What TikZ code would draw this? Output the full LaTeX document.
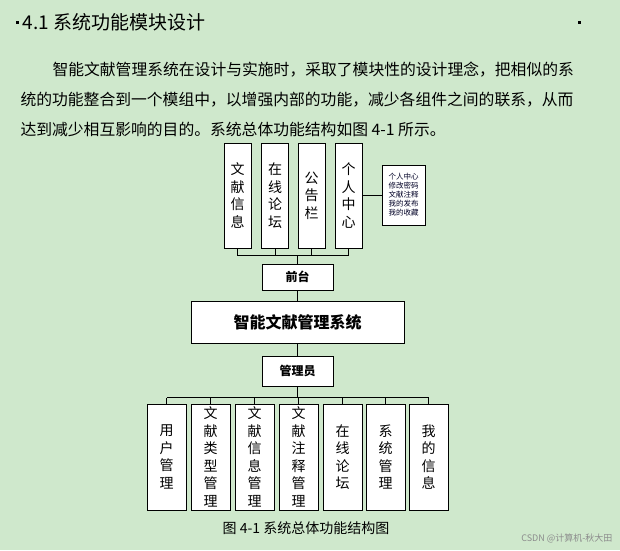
\documentclass[tikz,border=0pt]{standalone}
\usetikzlibrary{calc}
\usepackage{fontspec}
\newfontfamily\cjk{Noto Sans CJK SC}
\begin{document}
\begin{tikzpicture}[x=1pt,y=-1pt,
 bx/.style={draw,line width=0.9pt,fill=white,inner sep=0pt,font=\cjk\fontsize{14}{17.5}\selectfont,align=center},
 ln/.style={line width=0.8pt}]
\fill[fill={rgb,255:red,207;green,232;blue,204}] (0,0) rectangle (620,550);
\useasboundingbox (0,0) rectangle (620,550);
\fill (16,21) rectangle (19,24); \fill (578,21) rectangle (581,24);
\node[anchor=west,font=\cjk\fontsize{19}{22}\selectfont] (h) at (19,22) {4.1 系统功能模块设计};
\node[anchor=west,font=\cjk\fontsize{15.8}{20}\selectfont] (p1) at (49,70) {智能文献管理系统在设计与实施时，采取了模块性的设计理念，把相似的系};
\node[anchor=west,font=\cjk\fontsize{15.8}{20}\selectfont] (p2) at (17,100) {统的功能整合到一个模组中，以增强内部的功能，减少各组件之间的联系，从而};
\node[anchor=west,font=\cjk\fontsize{15.8}{20}\selectfont] (p3) at (17,129) {达到减少相互影响的目的。系统总体功能结构如图 4-1 所示。};
% top boxes
\foreach \n/\x/\t in {a/237.5/文\\献\\信\\息, b/275/在\\线\\论\\坛, c/311.5/公\\告\\栏, d/348.5/个\\人\\中\\心}
  \node[bx,minimum width=27pt,minimum height=105pt] (\n) at (\x,195.5) {\t};
\node[bx,minimum width=43pt,minimum height=60pt,font=\cjk\fontsize{7.5}{9}\selectfont,text=black!85!blue] (s) at (403.5,195) {个人中心\\修改密码\\文献注释\\我的发布\\我的收藏};
\draw[ln] (d.east|-s) -- (s.west);
\node[bx,minimum width=71pt,minimum height=26pt,font=\cjk\bfseries\fontsize{12}{13}\selectfont] (q) at (297.5,277) {前台};
\node[bx,minimum width=213pt,minimum height=42pt,font=\cjk\bfseries\fontsize{16}{18}\selectfont] (m) at (297.5,322) {智能文献管理系统};
\node[bx,minimum width=71pt,minimum height=30pt,font=\cjk\bfseries\fontsize{12}{13}\selectfont] (g) at (297.5,371) {管理员};
\coordinate (t1) at (237.5,255); \coordinate (t2) at (348.5,255);
\draw[ln] (a.south) -- (t1) -- (t2) -- (d.south);
\draw[ln] (b.south) -- (b.south|-t1); \draw[ln] (c.south) -- (c.south|-t1);
\draw[ln] (297.5,255) -- (q.north);
\draw[ln] (q) -- (m); \draw[ln] (m) -- (g);
\foreach \n/\x/\t in {u1/166.5/用\\户\\管\\理, u2/210.5/文\\献\\类\\型\\管\\理, u3/254.5/文\\献\\信\\息\\管\\理, u4/298.5/文\\献\\注\\释\\管\\理, u5/342.5/在\\线\\论\\坛, u6/385.5/系\\统\\管\\理, u7/428.5/我\\的\\信\\息}
  {\node[bx,minimum width=39pt,minimum height=106pt] (\n) at (\x,457) {\t};
   \draw[ln] (\n.north) -- ++(0,-6);}
\draw[ln] ($(u1.north)+(0,-6)$) -- ($(u7.north)+(0,-6)$);
\draw[ln] (g.south) -- (297.5,398);
\node[font=\cjk\fontsize{14}{15}\selectfont] (cap) at (306,528) {图 4-1 系统总体功能结构图};
\node[anchor=east,font=\cjk\fontsize{9}{11}\selectfont,text=black!45] (w) at (616,538) {CSDN @计算机-秋大田};
\end{tikzpicture}
\end{document}
